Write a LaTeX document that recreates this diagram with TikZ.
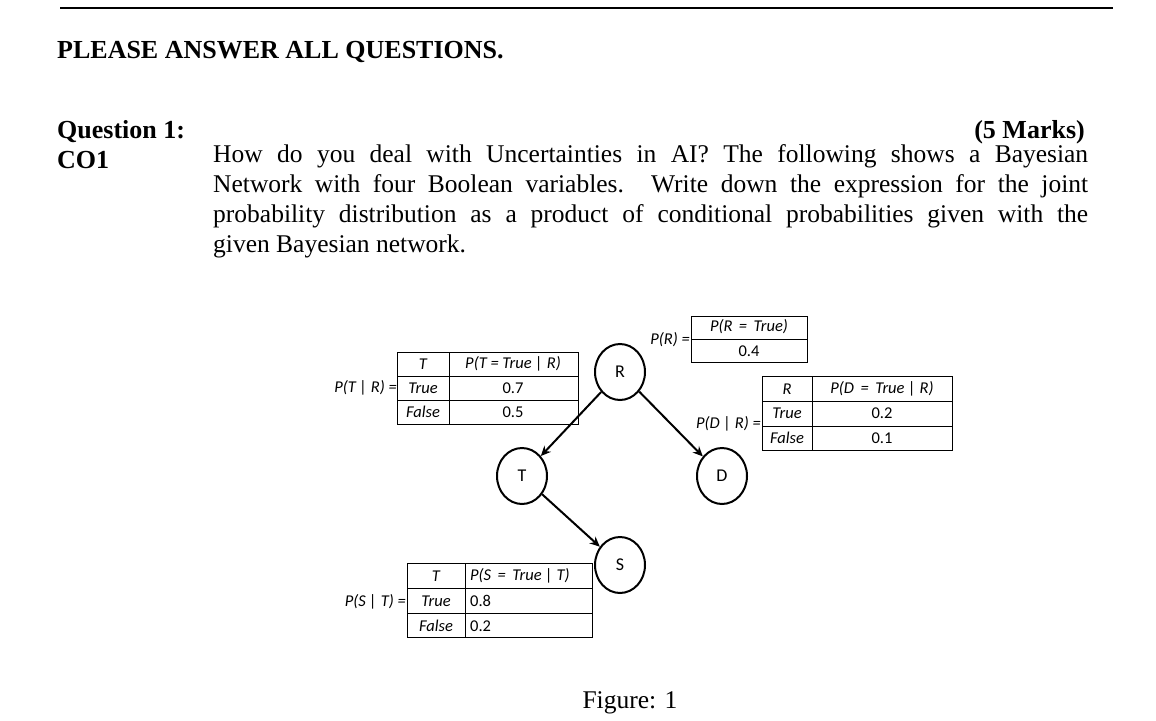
\documentclass[tikz,border=0pt]{standalone}
\usepackage{fontspec}
\setmainfont{Liberation Serif}
\newfontfamily\dfont{Carlito}
\usetikzlibrary{arrows.meta,shapes.geometric}
\begin{document}
\begin{tikzpicture}[x=1pt,y=-1pt,
  txt/.style={inner sep=0pt,font=\fontsize{25.5}{30}\selectfont},
  hd/.style={txt,font=\bfseries\fontsize{26}{30}\selectfont},
  bn/.style={draw,line width=2pt,ellipse,minimum width=50pt,minimum height=56pt,font=\dfont\fontsize{18}{20}\selectfont},
  arr/.style={line width=2pt,-{Stealth[length=10pt,width=9pt]}},
  tl/.style={font=\dfont\itshape\fontsize{16.5}{18}\selectfont,inner sep=0pt},
  tv/.style={font=\dfont\fontsize{16.5}{18}\selectfont,inner sep=0pt},
  grid/.style={line width=0.9pt}]
\useasboundingbox (0,0) rectangle (1156,720);
\fill[white] (0,0) rectangle (1156,720);
\draw[line width=1.5pt] (60,8) -- (1113,8);
\node[hd,anchor=base west] (pl) at (57,58) {PLEASE ANSWER ALL QUESTIONS.};
\node[hd,anchor=base west] (q1) at (57,138) {Question 1:};
\node[hd,anchor=base east] (mk) at (1085,138) {(5 Marks)};
\node[hd,anchor=base west] (co) at (57,168) {CO1};
\node[txt,anchor=north west,text width=875pt,align=justify] (par) at (213,144) {How do you deal with Uncertainties in AI? The following shows a Bayesian\linebreak Network with four Boolean variables. Write down the expression for the joint\linebreak probability distribution as a product of conditional probabilities given with the\linebreak given Bayesian network.};
% nodes
\node[bn] (R) at (620,372) {R};
\node[bn] (T) at (522,476) {T};
\node[bn] (D) at (722,476) {D};
\node[bn] (S) at (620,565) {S};
\draw[arr] (R) -- (T);
\draw[arr] (R) -- (D);
\draw[arr] (T) -- (S);
% P(R)
\draw[grid] (691,316) rectangle (807,362) (691,339) -- (807,339);
\node[tl] (prh) at (749,327) {P(R \,=\, True)};
\node[tv] (prv) at (749,351) {0.4};
\node[tl,anchor=east] (prl) at (690,340) {P(R) =};
% P(T|R)
\draw[grid] (397,352) rectangle (578,424) (397,376) -- (578,376) (397,400) -- (578,400) (449,352) -- (449,424);
\node[tl] (t1) at (423,364) {T};
\node[tl] (t2) at (513,364) {P(T = True | R)};
\node[tl] (t3) at (423,388) {True};
\node[tv] (t4) at (513,388) {0.7};
\node[tl] (t5) at (423,412) {False};
\node[tv] (t6) at (513,412) {0.5};
\node[tl,anchor=east] (tl) at (397,388) {P(T | R) =};
% P(D|R)
\draw[grid] (762,376) rectangle (952,450) (762,401) -- (952,401) (762,426) -- (952,426) (812,376) -- (812,450);
\node[tl] (d1) at (787,389) {R};
\node[tl] (d2) at (882,389) {P(D \,=\, True | R)};
\node[tl] (d3) at (787,413) {True};
\node[tv] (d4) at (882,413) {0.2};
\node[tl] (d5) at (787,438) {False};
\node[tv] (d6) at (882,438) {0.1};
\node[tl,anchor=east] (dl) at (761,424) {P(D | R) =};
% P(S|T)
\draw[grid] (407,563) rectangle (592,637) (407,588) -- (592,588) (407,613) -- (592,613) (465,563) -- (465,637);
\node[tl] (s1) at (436,576) {T};
\node[tl,anchor=west] (s2) at (470,576) {P(S \,=\, True | T)};
\node[tl] (s3) at (436,601) {True};
\node[tv,anchor=west] (s4) at (470,601) {0.8};
\node[tl] (s5) at (436,626) {False};
\node[tv,anchor=west] (s6) at (470,626) {0.2};
\node[tl,anchor=east] (sl) at (406,602) {P(S | T) =};
\node[txt,anchor=base] (fig) at (630,708) {Figure: 1};
\end{tikzpicture}
\end{document}
